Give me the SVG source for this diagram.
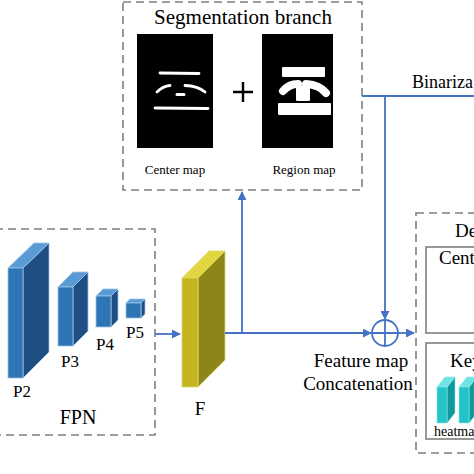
<svg xmlns="http://www.w3.org/2000/svg" width="474" height="474" viewBox="0 0 474 474">
<defs>
<style>
.dash{fill:none;stroke:#7f7f7f;stroke-width:1.6;stroke-dasharray:8 5}
.box{fill:none;stroke:#7f7f7f;stroke-width:1.6}
.ln{fill:none;stroke:#4472c4;stroke-width:1.8}
.bf{fill:#2e75b6;stroke:#9dc3e6;stroke-width:0.8}
.bs{fill:#1f4e85;stroke:#9dc3e6;stroke-width:0.8}
.bt{fill:#5b9bd5;stroke:#9dc3e6;stroke-width:0.8}
.yf{fill:#c4b51f;stroke:#e0d870;stroke-width:0.8}
.ys{fill:#8c8518;stroke:#e0d870;stroke-width:0.8}
.yt{fill:#e2d640;stroke:#e0d870;stroke-width:0.8}
.cf{fill:#22c4c8;stroke:#8fe8e8;stroke-width:0.6}
.cs{fill:#10989c;stroke:#8fe8e8;stroke-width:0.6}
.ct{fill:#6ee4e4;stroke:#8fe8e8;stroke-width:0.6}
.w{fill:none;stroke:#fff;stroke-linecap:round}
</style>
<marker id="ah" viewBox="0 0 10 10" refX="9" refY="5" markerWidth="5" markerHeight="5" orient="auto" markerUnits="strokeWidth">
<path d="M0,0 L10,5 L0,10 z" fill="#4472c4"/>
</marker>
</defs>
<rect width="474" height="474" fill="#fff"/>
<g font-family="'Liberation Serif', 'Times New Roman', serif" fill="#000">

<g id="segmentation">
<rect class="dash" x="123" y="2" width="239" height="188"/>
<text x="243" y="24" font-size="21" text-anchor="middle">Segmentation branch</text>
<g id="center-map">
<rect x="137" y="34" width="76" height="114" fill="#000"/>
<path class="w" stroke-width="2.8" d="M160,73 L199,73.5"/>
<path class="w" stroke-width="2.8" d="M157,92 Q163,86 170,85.5"/>
<path class="w" stroke-width="2.8" d="M185,85.5 Q198,86 205,92"/>
<path class="w" stroke-width="3" d="M177,94.5 L184,94.5"/>
<path class="w" stroke-width="2.8" d="M155,108 L208,108.5"/>
<text x="175" y="174" font-size="13" text-anchor="middle">Center map</text>
</g>
<path d="M243,82 V102 M233,92 H253" stroke="#000" stroke-width="2.4"/>
<g id="region-map">
<rect x="262" y="34" width="71" height="114" fill="#000"/>
<rect x="282" y="67" width="43" height="10" fill="#fff" rx="1"/>
<path class="w" stroke-width="8" d="M283,91 Q289,84 298,84"/>
<path class="w" stroke-width="8" d="M306,84 Q320,85 326,93"/>
<rect x="296" y="86" width="14" height="15" fill="#fff" rx="1.5"/>
<rect x="278" y="103" width="53" height="12" fill="#fff" rx="1"/>
<text x="304" y="174" font-size="13" text-anchor="middle">Region map</text>
</g>
</g>

<g id="fpn">
<rect class="dash" x="-5" y="229" width="160" height="206"/>
<g id="p2">
<polygon class="bs" points="23,268 49,243 49,352 23,378"/>
<polygon class="bt" points="8,268 23,268 49,243 34,243"/>
<rect class="bf" x="8" y="268" width="15" height="110"/>
<text x="22" y="397" font-size="17" text-anchor="middle">P2</text>
</g>
<g id="p3">
<polygon class="bs" points="73,287 88,272 88,331 73,346"/>
<polygon class="bt" points="58,287 73,287 88,272 73,272"/>
<rect class="bf" x="58" y="287" width="15" height="59"/>
<text x="70" y="367" font-size="17" text-anchor="middle">P3</text>
</g>
<g id="p4">
<polygon class="bs" points="111,296 118,289 118,320 111,327"/>
<polygon class="bt" points="96,296 111,296 118,289 103,289"/>
<rect class="bf" x="96" y="296" width="15" height="31"/>
<text x="105" y="350" font-size="17" text-anchor="middle">P4</text>
</g>
<g id="p5">
<polygon class="bs" points="141,303 145,299 145,314 141,318"/>
<polygon class="bt" points="126,303 141,303 145,299 130,299"/>
<rect class="bf" x="126" y="303" width="15" height="15"/>
<text x="135" y="338" font-size="17" text-anchor="middle">P5</text>
</g>
<text x="78" y="424" font-size="20" text-anchor="middle">FPN</text>
</g>

<g id="f">
<polygon class="ys" points="198,278 225,251 225,360 198,387"/>
<polygon class="yt" points="182,278 198,278 225,251 209,251"/>
<rect class="yf" x="182" y="278" width="16" height="109"/>
<text x="200" y="415" font-size="19" text-anchor="middle">F</text>
</g>

<g id="concat">
<circle cx="385" cy="333" r="13" fill="#fff" stroke="#4472c4" stroke-width="1.8"/>
<path d="M372,333 H398 M385,320 V346" stroke="#4472c4" stroke-width="1.8"/>
<text x="361" y="367" font-size="19" text-anchor="middle">Feature map</text>
<text x="358" y="390" font-size="19" text-anchor="middle">Concatenation</text>
</g>

<g id="detection">
<rect class="dash" x="416" y="213" width="80" height="240"/>
<text x="455" y="237" font-size="19">De</text>
<rect class="box" x="426" y="247" width="70" height="86"/>
<text x="439" y="264" font-size="19">Cent</text>
<rect class="box" x="426" y="343" width="70" height="96"/>
<text x="450" y="367" font-size="19">Key</text>
<polygon class="cs" points="447,387 455,377 455,413 447,423"/>
<polygon class="ct" points="437,387 447,387 455,377 445,377"/>
<rect class="cf" x="437" y="387" width="10" height="36"/>
<polygon class="cs" points="469,387 477,377 477,413 469,423"/>
<polygon class="ct" points="459,387 469,387 477,377 467,377"/>
<rect class="cf" x="459" y="387" width="10" height="36"/>
<text x="434" y="436" font-size="14">heatma</text>
</g>

<g id="binarization">
<text x="412" y="88" font-size="18">Binariza</text>
</g>
</g>

<g id="connectors">
<path class="ln" d="M155,334 H180" marker-end="url(#ah)"/>
<path class="ln" d="M225,333 H371" marker-end="url(#ah)"/>
<path class="ln" d="M242,333 V192" marker-end="url(#ah)"/>
<path class="ln" d="M362,96 H474"/>
<path class="ln" d="M385,96 V319" marker-end="url(#ah)"/>
<path class="ln" d="M398,333 H414" marker-end="url(#ah)"/>
</g>
</svg>
